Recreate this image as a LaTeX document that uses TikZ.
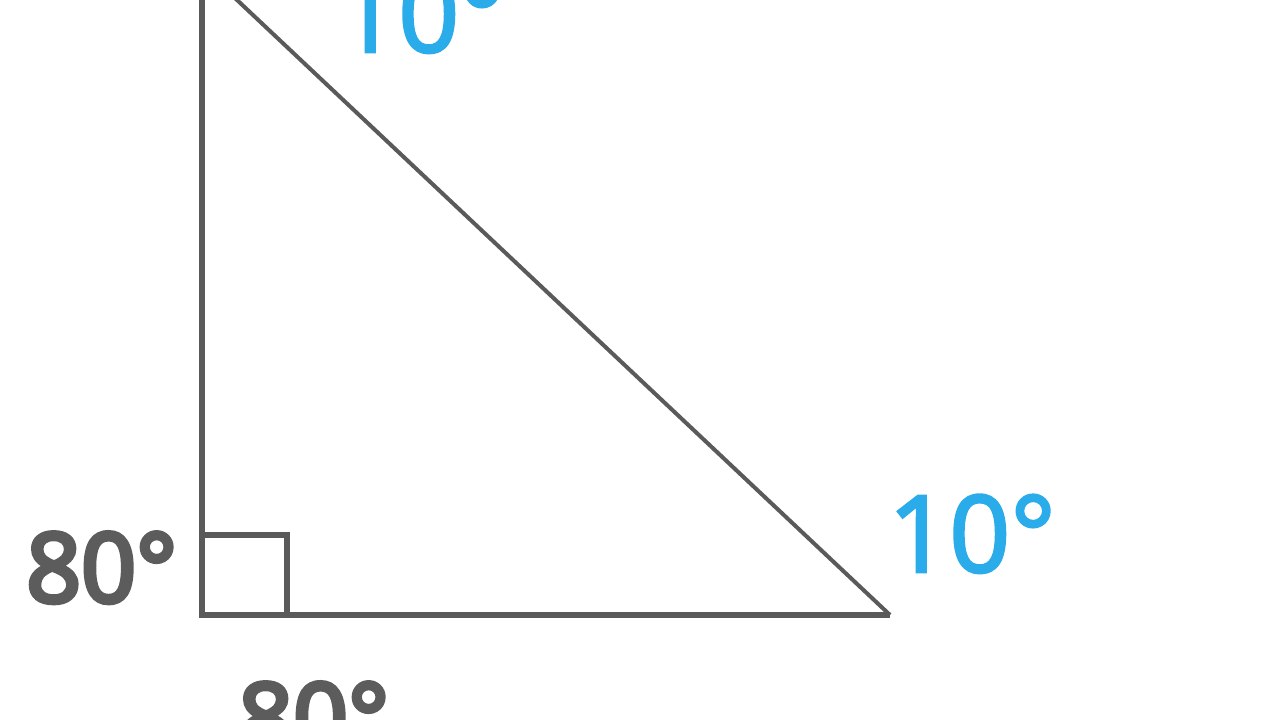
\documentclass[tikz,border=0pt]{standalone}
\usepackage{fontspec}
\setmainfont{Open Sans}
\newfontfamily\grayfont{Open Sans}[FakeBold=5]
\newfontfamily\bluefont{Open Sans}[FakeBold=2.5]
\definecolor{edgegray}{HTML}{5A5A5A}
\definecolor{labgray}{HTML}{5C5C5C}
\definecolor{labblue}{HTML}{2AABEA}
\tikzset{
  side/.style={draw=edgegray, line width=4.5pt, line join=miter},
  hyp/.style={draw=edgegray, line width=3pt},
  graylab/.style={text=labgray, inner sep=0pt, anchor=base west, font=\fontsize{72}{80}\grayfont},
  bluelab/.style={text=labblue, inner sep=0pt, anchor=base west, font=\fontsize{80}{90}\bluefont}
}
\begin{document}
\begin{tikzpicture}[x=0.75pt,y=-0.75pt]
\useasboundingbox (0,0) rectangle (1280,720);
\coordinate (A) at (202,-33);
\coordinate (B) at (202,615);
\coordinate (C) at (890,615);
\coordinate (S1) at (202,535);
\coordinate (S2) at (287,535);
\coordinate (S3) at (287,615);
\draw[side] (A) -- (B) -- (C);
\draw[hyp] (A) -- (C);
\draw[side] (S1) -- (S2) -- (S3);
\node[graylab] (l80a) at (26,602) {80°};
\node[graylab] (l80b) at (238,752) {80°};
\node[bluelab] (l10a) at (337,52) {10°};
\node[bluelab] (l10b) at (888,572) {10°};
\end{tikzpicture}
\end{document}
